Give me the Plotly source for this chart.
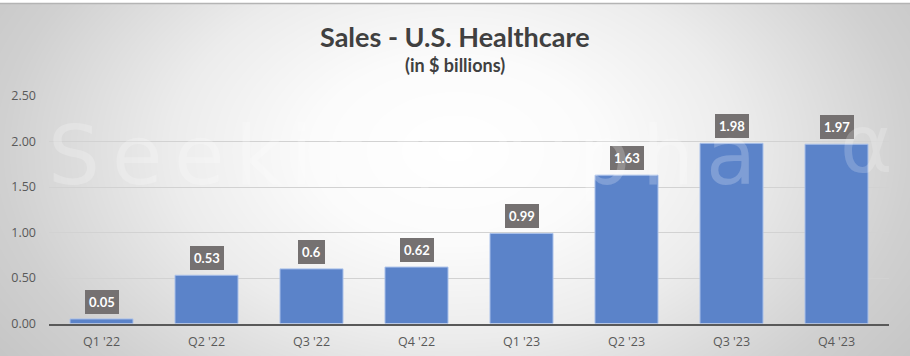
import numpy as np
import plotly.graph_objects as go

# ---- data ----
quarters = ["Q1 '22", "Q2 '22", "Q3 '22", "Q4 '22", "Q1 '23", "Q2 '23", "Q3 '23", "Q4 '23"]
sales = [0.05, 0.53, 0.6, 0.62, 0.99, 1.63, 1.98, 1.97]
value_labels = ["0.05", "0.53", "0.6", "0.62", "0.99", "1.63", "1.98", "1.97"]
y_ticks = [0, 0.5, 1.0, 1.5, 2.0, 2.5]
y_tick_text = ["0.00", "0.50", "1.00", "1.50", "2.00", "2.50"]

W, H = 910, 356

# ---- radial gradient background (styling only) ----
n = 80
gx = np.linspace(0, 1, n)
gy = np.linspace(0, 1, n)
X, Y = np.meshgrid(gx, gy)
py_top = (1 - Y) * H
dx = (X * W - 455) / 455
dy = (py_top - 150) / 300
dist = np.sqrt(dx ** 2 + dy ** 2)
dist = np.clip(dist, 0, 1.25)

fig = go.Figure()
fig.add_trace(go.Heatmap(
    x=gx, y=gy, z=dist, zmin=0, zmax=1.25, zsmooth="best",
    colorscale=[[0, "#ffffff"], [0.25, "#fbfbfb"], [0.5, "#ececec"], [0.8, "#d0d0d0"], [1, "#c4c4c4"]],
    showscale=False, hoverinfo="skip", xaxis="x", yaxis="y",
))

fig.add_trace(go.Bar(
    x=quarters, y=sales, xaxis="x2", yaxis="y2",
    marker=dict(color="#5B83C9", line=dict(color="#A9C0EA", width=1)),
    hoverinfo="x+y",
))

annotations = []
for q, v, t in zip(quarters, sales, value_labels):
    annotations.append(dict(
        x=q, y=v, xref="x2", yref="y2", text="<b>%s</b>" % t, showarrow=False,
        yanchor="bottom", yshift=5,
        font=dict(family="Lato", size=13, color="#ffffff"),
        bgcolor="#757171", bordercolor="#757171", borderwidth=1, borderpad=3,
    ))

# watermark, letter by letter (stretched spacing)
wm_chars = list("Seeking Alpha")
wm_adv = [0.635, 0.615, 0.615, 0.579, 0.278, 0.634, 0.635, 0.318, 0.684, 0.278, 0.635, 0.634, 0.613]
scale = 75 * 1.341
xpos = 42.0
for ch, a in zip(wm_chars, wm_adv):
    cx = xpos + a * scale / 2
    xpos += a * scale
    if ch == " ":
        continue
    annotations.append(dict(
        x=cx / W, y=1 - 155 / H, xref="paper", yref="paper", text=ch, showarrow=False,
        xanchor="center", yanchor="middle",
        font=dict(family="DejaVu Sans", size=82, color="rgba(255,255,255,0.22)"),
    ))
annotations.append(dict(
    x=866 / W, y=1 - 145 / H, xref="paper", yref="paper", text="α", showarrow=False,
    xanchor="center", yanchor="middle",
    font=dict(family="DejaVu Sans", size=80, color="rgba(255,255,255,0.2)"),
))

# titles
annotations.append(dict(
    x=0.5, y=1 - 36 / H, xref="paper", yref="paper", text="<b>Sales - U.S. Healthcare</b>",
    showarrow=False, xanchor="center", yanchor="middle",
    font=dict(family="Lato", size=27, color="#404040"),
))
annotations.append(dict(
    x=0.5, y=1 - 65 / H, xref="paper", yref="paper", text="<b>(in $ billions)</b>",
    showarrow=False, xanchor="center", yanchor="middle",
    font=dict(family="Lato", size=18, color="#404040"),
))

fig.update_layout(
    width=W, height=H,
    margin=dict(l=0, r=0, t=0, b=0, autoexpand=False),
    paper_bgcolor="#d0d0d0",
    plot_bgcolor="rgba(0,0,0,0)",
    showlegend=False,
    bargap=0.4,
    xaxis=dict(domain=[0, 1], range=[0, 1], visible=False, fixedrange=True, automargin=False),
    yaxis=dict(domain=[0, 1], range=[0, 1], visible=False, fixedrange=True, automargin=False),
    xaxis2=dict(
        domain=[49 / W, 889 / W], anchor="y2", automargin=False,
        showgrid=False, showline=True, linecolor="#595959", linewidth=1.5,
        tickfont=dict(family="Open Sans", size=12.5, color="#595959"),
        ticks="", ticklabelstandoff=6,
    ),
    yaxis2=dict(
        domain=[(H - 323.5) / H, (H - 96) / H], anchor="x2", automargin=False,
        range=[0, 2.5], tickvals=y_ticks, ticktext=y_tick_text,
        showgrid=True, gridcolor="#d2d2d2", gridwidth=1,
        zeroline=False, showline=False,
        tickfont=dict(family="Open Sans", size=12.5, color="#595959"),
        ticks="", ticklabelstandoff=12,
    ),
    annotations=annotations,
    shapes=[
        dict(type="rect", xref="paper", yref="paper", x0=0, x1=1, y0=1 - 3 / H, y1=1,
             fillcolor="#ffffff", line=dict(width=0), layer="above"),
        dict(type="line", xref="paper", yref="paper", x0=0, x1=1, y0=1 - 3.5 / H, y1=1 - 3.5 / H,
             line=dict(color="#b4b4b4", width=1.5), layer="above"),
    ],
)

fig.write_html(
    "out.html",
    config={"displayModeBar": False},
    post_script="document.body.style.margin='0';document.body.style.overflow='hidden';",
)
